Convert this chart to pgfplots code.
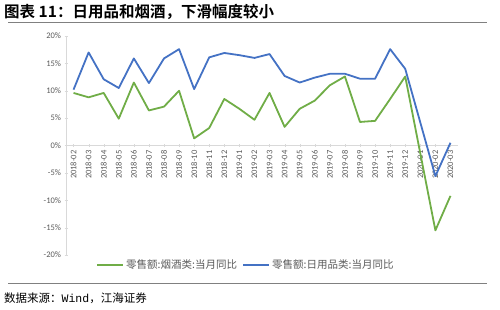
\documentclass[border=0pt]{standalone}
\usepackage{pgfplots}
\pgfplotsset{compat=1.18}
\usepackage{fontspec}
\setmainfont{Carlito}
\newfontfamily\cjk{Noto Sans CJK SC}
\newfontfamily\cjkb{Noto Sans CJK SC Bold}
\newfontfamily\mono{Liberation Mono}
\definecolor{cgreen}{RGB}{112,173,71}
\definecolor{cblue}{RGB}{68,114,196}
\definecolor{tgray}{RGB}{89,89,89}
\definecolor{agray}{RGB}{217,217,217}
\begin{document}
\begin{tikzpicture}[x=1pt,y=1pt]
\path[use as bounding box] (0,0) rectangle (500,310);
\node[anchor=west,inner sep=0] at (4,298) {\cjkb\fontsize{15.5}{17}\selectfont 图表 11：日用品和烟酒，下滑幅度较小};
\draw[gray,line width=0.8pt] (8,288) -- (487,288);
\draw[gray,line width=0.8pt] (8,27) -- (487,27);
\node[anchor=west,inner sep=0] at (4,12) {\cjk\fontsize{11.5}{13}\selectfont 数据来源：{\mono Wind}，江海证券};
\begin{axis}[
  at={(66pt,55pt)}, anchor=south west,
  scale only axis, width=392pt, height=219pt,
  xmin=-0.5, xmax=25.5, ymin=-20, ymax=20,
  axis y line=left, axis x line=middle,
  axis line style={agray,-},
  ytick={-20,-15,-10,-5,0,5,10,15,20},
  yticklabels={-20\%,-15\%,-10\%,-5\%,0\%,5\%,10\%,15\%,20\%},
  yticklabel style={font=\fontsize{8.5}{9}\selectfont,color=tgray},
  xtick={0,...,25},
  xticklabels={2018-02,2018-03,2018-04,2018-05,2018-06,2018-07,2018-08,2018-09,2018-10,2018-11,2018-12,2019-01,2019-02,2019-03,2019-04,2019-05,2019-06,2019-07,2019-08,2019-09,2019-10,2019-11,2019-12,2020-01,2020-02,2020-03},
  xticklabel style={font=\fontsize{8.5}{9}\selectfont,color=tgray,rotate=90,anchor=east},
  tick style={agray},
  major tick length=3pt,
  clip=false,
]
\addplot[cgreen,line width=1.8pt,line join=round] coordinates {
(0,9.6)(1,8.8)(2,9.6)(3,4.9)(4,11.5)(5,6.4)(6,7.1)(7,10.0)(8,1.3)(9,3.2)(10,8.5)(11,6.7)(12,4.7)(13,9.6)(14,3.4)(15,6.7)(16,8.2)(17,11.0)(18,12.6)(19,4.3)(20,4.5)(21,8.5)(22,12.6)(24,-15.5)(25,-9.2)};
\addplot[cblue,line width=1.8pt,line join=round] coordinates {
(0,10.2)(1,17.0)(2,12.1)(3,10.5)(4,15.9)(5,11.4)(6,15.9)(7,17.6)(8,10.3)(9,16.1)(10,16.9)(11,16.5)(12,16.0)(13,16.7)(14,12.7)(15,11.5)(16,12.4)(17,13.1)(18,13.1)(19,12.2)(20,12.2)(21,17.6)(22,14.0)(24,-5.6)(25,0.5)};
\end{axis}
\draw[cgreen,line width=1.8pt] (97,45) -- (123,45);
\node[anchor=west,inner sep=0,text=tgray] at (126,45) {\cjk\fontsize{10.5}{12}\selectfont 零售额:烟酒类:当月同比};
\draw[cblue,line width=1.8pt] (243,45) -- (269,45);
\node[anchor=west,inner sep=0,text=tgray] at (272,45) {\cjk\fontsize{10.5}{12}\selectfont 零售额:日用品类:当月同比};
\end{tikzpicture}
\end{document}
